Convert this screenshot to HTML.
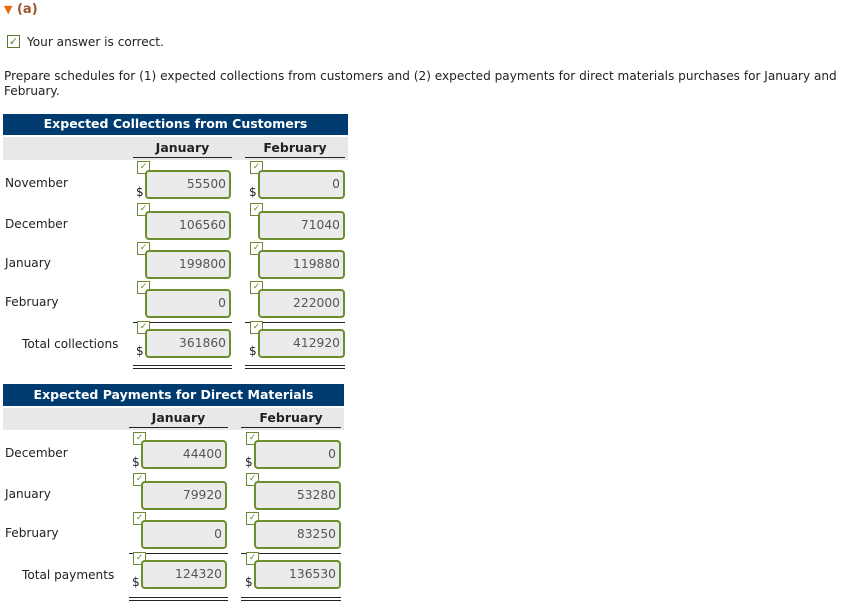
<!DOCTYPE html>
<html><head><meta charset="utf-8"><style>
body{margin:0;width:850px;height:612px;background:#fff;position:relative;font-family:"DejaVu Sans","Liberation Sans",sans-serif;font-size:12.1px;color:#222;overflow:hidden}
.a{position:absolute;white-space:nowrap}
.hd{position:absolute;background:#003b6f;color:#fff;font-weight:bold;text-align:center;font-size:12.5px}
.sub{position:absolute;background:#e8e8e8}
.ch{position:absolute;font-weight:bold;text-align:center;border-bottom:1px solid #222;font-size:12.5px}
.cb{position:absolute;width:11px;height:11px;border:1px solid #6b8a34;background:#fff;font-size:9px;line-height:11px;text-align:center;color:#6b8a34}
.in{position:absolute;height:25px;border:2px solid #6b8f2e;border-radius:4px;background:#ebebeb;color:#555;text-align:right;line-height:25px;padding-right:3px;box-sizing:content-box;font-size:12.3px}
.d{position:absolute;font-size:12px}
.ln{position:absolute;height:1px;background:#222}
</style></head><body>
<div class="a" style="left:4px;top:2px;color:#a0522d;font-weight:bold;font-size:13px"><span style="color:#e8690a;font-size:11px">&#9660;</span> (a)</div>
<div class="a" style="left:7px;top:35px;width:13px;height:13px;border:1px solid #5a7a30;box-sizing:border-box;color:#5a7a30;font-size:11px;line-height:12px;text-align:center">&#10003;</div>
<div class="a" style="left:27px;top:35px">Your answer is correct.</div>
<div class="a" style="left:4px;top:69px">Prepare schedules for (1) expected collections from customers and (2) expected payments for direct materials purchases for January and</div>
<div class="a" style="left:4px;top:84px">February.</div>

<div class="hd" style="left:3px;top:114px;width:345px;height:21px;line-height:20px">Expected Collections from Customers</div>
<div class="sub" style="left:3px;top:137px;width:345px;height:23px"></div>
<div class="ch" style="left:133px;top:140px;width:99px;height:17px">January</div>
<div class="ch" style="left:245px;top:140px;width:100px;height:17px">February</div>

<div class="a" style="left:5px;top:176px">November</div>
<div class="a" style="left:5px;top:217px">December</div>
<div class="a" style="left:5px;top:256px">January</div>
<div class="a" style="left:5px;top:295px">February</div>
<div class="a" style="left:22px;top:337px">Total collections</div>

<div class="cb" style="left:137px;top:161px">&#10003;</div><div class="in" style="left:145px;top:170px;width:79px">55500</div><div class="d" style="left:136px;top:185px">$</div>
<div class="cb" style="left:250px;top:161px">&#10003;</div><div class="in" style="left:258px;top:170px;width:80px">0</div><div class="d" style="left:249px;top:185px">$</div>
<div class="cb" style="left:137px;top:203px">&#10003;</div><div class="in" style="left:145px;top:211px;width:79px">106560</div>
<div class="cb" style="left:250px;top:203px">&#10003;</div><div class="in" style="left:258px;top:211px;width:80px">71040</div>
<div class="cb" style="left:137px;top:242px">&#10003;</div><div class="in" style="left:145px;top:250px;width:79px">199800</div>
<div class="cb" style="left:250px;top:242px">&#10003;</div><div class="in" style="left:258px;top:250px;width:80px">119880</div>
<div class="cb" style="left:137px;top:281px">&#10003;</div><div class="in" style="left:145px;top:289px;width:79px">0</div>
<div class="cb" style="left:250px;top:281px">&#10003;</div><div class="in" style="left:258px;top:289px;width:80px">222000</div>
<div class="ln" style="left:133px;top:322px;width:99px"></div><div class="ln" style="left:245px;top:322px;width:100px"></div>
<div class="cb" style="left:137px;top:321px">&#10003;</div><div class="in" style="left:145px;top:329px;width:79px">361860</div><div class="d" style="left:136px;top:344px">$</div>
<div class="cb" style="left:250px;top:321px">&#10003;</div><div class="in" style="left:258px;top:329px;width:80px">412920</div><div class="d" style="left:249px;top:344px">$</div>
<div class="ln" style="left:133px;top:365px;width:99px"></div><div class="ln" style="left:133px;top:368px;width:99px"></div>
<div class="ln" style="left:245px;top:365px;width:100px"></div><div class="ln" style="left:245px;top:368px;width:100px"></div>

<div class="hd" style="left:3px;top:384px;width:341px;height:22px;line-height:21px">Expected Payments for Direct Materials</div>
<div class="sub" style="left:3px;top:408px;width:341px;height:22px"></div>
<div class="ch" style="left:129px;top:410px;width:99px;height:17px">January</div>
<div class="ch" style="left:241px;top:410px;width:100px;height:17px">February</div>

<div class="a" style="left:5px;top:446px">December</div>
<div class="a" style="left:5px;top:487px">January</div>
<div class="a" style="left:5px;top:526px">February</div>
<div class="a" style="left:22px;top:568px">Total payments</div>

<div class="cb" style="left:133px;top:432px">&#10003;</div><div class="in" style="left:141px;top:440px;width:79px">44400</div><div class="d" style="left:132px;top:455px">$</div>
<div class="cb" style="left:246px;top:432px">&#10003;</div><div class="in" style="left:254px;top:440px;width:80px">0</div><div class="d" style="left:245px;top:455px">$</div>
<div class="cb" style="left:133px;top:473px">&#10003;</div><div class="in" style="left:141px;top:481px;width:79px">79920</div>
<div class="cb" style="left:246px;top:473px">&#10003;</div><div class="in" style="left:254px;top:481px;width:80px">53280</div>
<div class="cb" style="left:133px;top:512px">&#10003;</div><div class="in" style="left:141px;top:520px;width:79px">0</div>
<div class="cb" style="left:246px;top:512px">&#10003;</div><div class="in" style="left:254px;top:520px;width:80px">83250</div>
<div class="ln" style="left:129px;top:553px;width:99px"></div><div class="ln" style="left:241px;top:553px;width:100px"></div>
<div class="cb" style="left:133px;top:552px">&#10003;</div><div class="in" style="left:141px;top:560px;width:79px">124320</div><div class="d" style="left:132px;top:575px">$</div>
<div class="cb" style="left:246px;top:552px">&#10003;</div><div class="in" style="left:254px;top:560px;width:80px">136530</div><div class="d" style="left:245px;top:575px">$</div>
<div class="ln" style="left:129px;top:597px;width:99px"></div><div class="ln" style="left:129px;top:600px;width:99px"></div>
<div class="ln" style="left:241px;top:597px;width:100px"></div><div class="ln" style="left:241px;top:600px;width:100px"></div>
</body></html>
